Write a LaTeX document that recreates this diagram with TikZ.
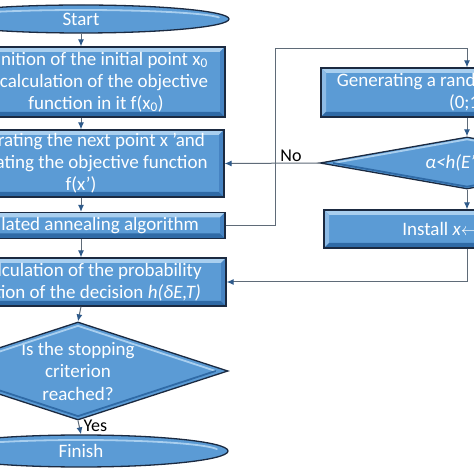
\documentclass[tikz,border=0pt]{standalone}
\usepackage{fontspec}
\setmainfont{Carlito}
\usetikzlibrary{shapes.geometric,arrows.meta,calc}
\definecolor{face}{HTML}{5B9BD5}
\definecolor{hl}{HTML}{A9CFEF}
\definecolor{hlb}{HTML}{8DBBE6}
\definecolor{sh}{HTML}{2F6AA6}
\definecolor{shb}{HTML}{4683C2}
\definecolor{edge}{HTML}{1B2A41}
\definecolor{conn}{HTML}{5F6B78}
\definecolor{tip}{HTML}{2E5A8A}
\begin{document}
\begin{tikzpicture}[x=1pt,y=1pt,
  bevel/.style={path picture={
    \def\ppbb{path picture bounding box}
    \fill[hl] (\ppbb.north west) -- (\ppbb.north east) -- ([shift={(-5pt,-5pt)}]\ppbb.north east) -- ([shift={(5pt,-5pt)}]\ppbb.north west) -- cycle;
    \fill[hlb] (\ppbb.north west) -- (\ppbb.south west) -- ([shift={(5pt,5pt)}]\ppbb.south west) -- ([shift={(5pt,-5pt)}]\ppbb.north west) -- cycle;
    \fill[sh] (\ppbb.south west) -- (\ppbb.south east) -- ([shift={(-5pt,5pt)}]\ppbb.south east) -- ([shift={(5pt,5pt)}]\ppbb.south west) -- cycle;
    \fill[shb] (\ppbb.north east) -- (\ppbb.south east) -- ([shift={(-5pt,5pt)}]\ppbb.south east) -- ([shift={(-5pt,-5pt)}]\ppbb.north east) -- cycle;
  }},
  box/.style={rectangle, draw=edge, line width=1.3pt, fill=face, text=white, align=center,
    font=\fontsize{19}{22}\selectfont, inner sep=0pt, bevel},
  ell/.style={ellipse, draw=edge, line width=1.3pt, fill=face, text=white,
    font=\fontsize{19}{22}\selectfont, inner sep=0pt},
  dia/.style={diamond, draw=edge, line width=1.3pt, fill=face, inner sep=0pt},
  dtxt/.style={text=white, align=center, font=\fontsize{19}{22.5}\selectfont, inner sep=0pt},
  hlline/.style={draw=hl, line width=1.8pt, line cap=round},
  shline/.style={draw=sh, line width=1.8pt, line cap=round},
  conn/.style={draw=conn, line width=1pt, -{Latex[length=7pt,width=6pt,color=tip]}},
  lbl/.style={text=black, font=\fontsize{18}{20}\selectfont, inner sep=1pt}
]
\useasboundingbox (0,0) rectangle (474,474);
\clip (0,0) rectangle (474,474);
\fill[white] (0,0) rectangle (474,474);

% left column
\node[ell, minimum width=296pt, minimum height=28pt] (start) at (81,455) {Start};
\node[box, minimum width=288pt, minimum height=70pt] (b1) at (81,392)
  {\hspace*{16pt}Definition of the initial point x\textsubscript{0}\\\hspace*{16pt}the calculation of the objective\\\hspace*{30pt}function in it f(x\textsubscript{0})};
\node[box, minimum width=286pt, minimum height=67pt] (b2) at (81,310.5)
  {Generating the next point x ’and\\evaluating the objective function\\f(x’)};
\node[box, minimum width=288pt, minimum height=26pt] (b3) at (81,248.5)
  {Simulated annealing algorithm};
\node[box, minimum width=290pt, minimum height=48pt] (b4) at (81,192)
  {\hspace*{18pt}Calculation of the probability\\function of the decision \textit{h(δE,T)}};
\node[dia, minimum width=300pt, minimum height=98pt] (dec) at (78,103) {};
\node[dtxt] (dect) at (dec.center) {Is the stopping\\criterion\\reached?};
\node[ell, minimum width=294pt, minimum height=32pt] (finish) at (81,23) {Finish};

% right column
\node[box, minimum width=292pt, minimum height=49pt] (rand) at (467,381.5)
  {Generating a random number α $\in$\\(0;1)};
\node[dia, minimum width=294pt, minimum height=52pt] (rdec) at (467,311) {};
\node[dtxt] (rdect) at (rdec.center) {\textit{α<h(E’-E,T)}};
\node[box, minimum width=286pt, minimum height=38pt] (inst) at (467,245)
  {Install \textit{x}$\leftarrow$\textit{x’}\hspace*{40pt}};

% highlights
\draw[hlline] ($(start.center)+(170:140pt and 9pt)$) arc[start angle=170, end angle=10, x radius=140pt, y radius=9pt];
\draw[hlline] ($(finish.center)+(170:138pt and 11pt)$) arc[start angle=170, end angle=10, x radius=138pt, y radius=11pt];
\draw[hlline] ($(dec.west)+(13,0)$) -- ($(dec.north)+(0,-4.5)$) -- ($(dec.east)+(-13,0)$);
\draw[shline] ($(dec.west)+(13,0)$) -- ($(dec.south)+(0,4.5)$) -- ($(dec.east)+(-13,0)$);
\draw[hlline] ($(rdec.west)+(14,0)$) -- ($(rdec.north)+(0,-3)$) -- ($(rdec.east)+(-14,0)$);
\draw[shline] ($(rdec.west)+(14,0)$) -- ($(rdec.south)+(0,3)$) -- ($(rdec.east)+(-14,0)$);

% connectors
\coordinate (c1) at (275,425);
\draw[conn] (start) -- (b1);
\draw[conn] (b1) -- (b2);
\draw[conn] (b2) -- (b3);
\draw[conn] (b3) -- (b4);
\draw[conn] (b4.south) -- (dec.north);
\draw[conn] (dec.south) -- (finish.north) node[lbl, pos=0.35, anchor=west, xshift=3pt] {Yes};
\draw[conn] (b3.east) -| (c1) -| (rand.north);
\draw[conn] (rand) -- (rdec.north);
\draw[conn] (rdec.west) -- (b2.east) node[lbl, pos=0.3, anchor=south] {No};
\draw[conn] (rdec.south) -- (inst.north);
\draw[conn] (inst.south) |- (b4.east);
\end{tikzpicture}
\end{document}
